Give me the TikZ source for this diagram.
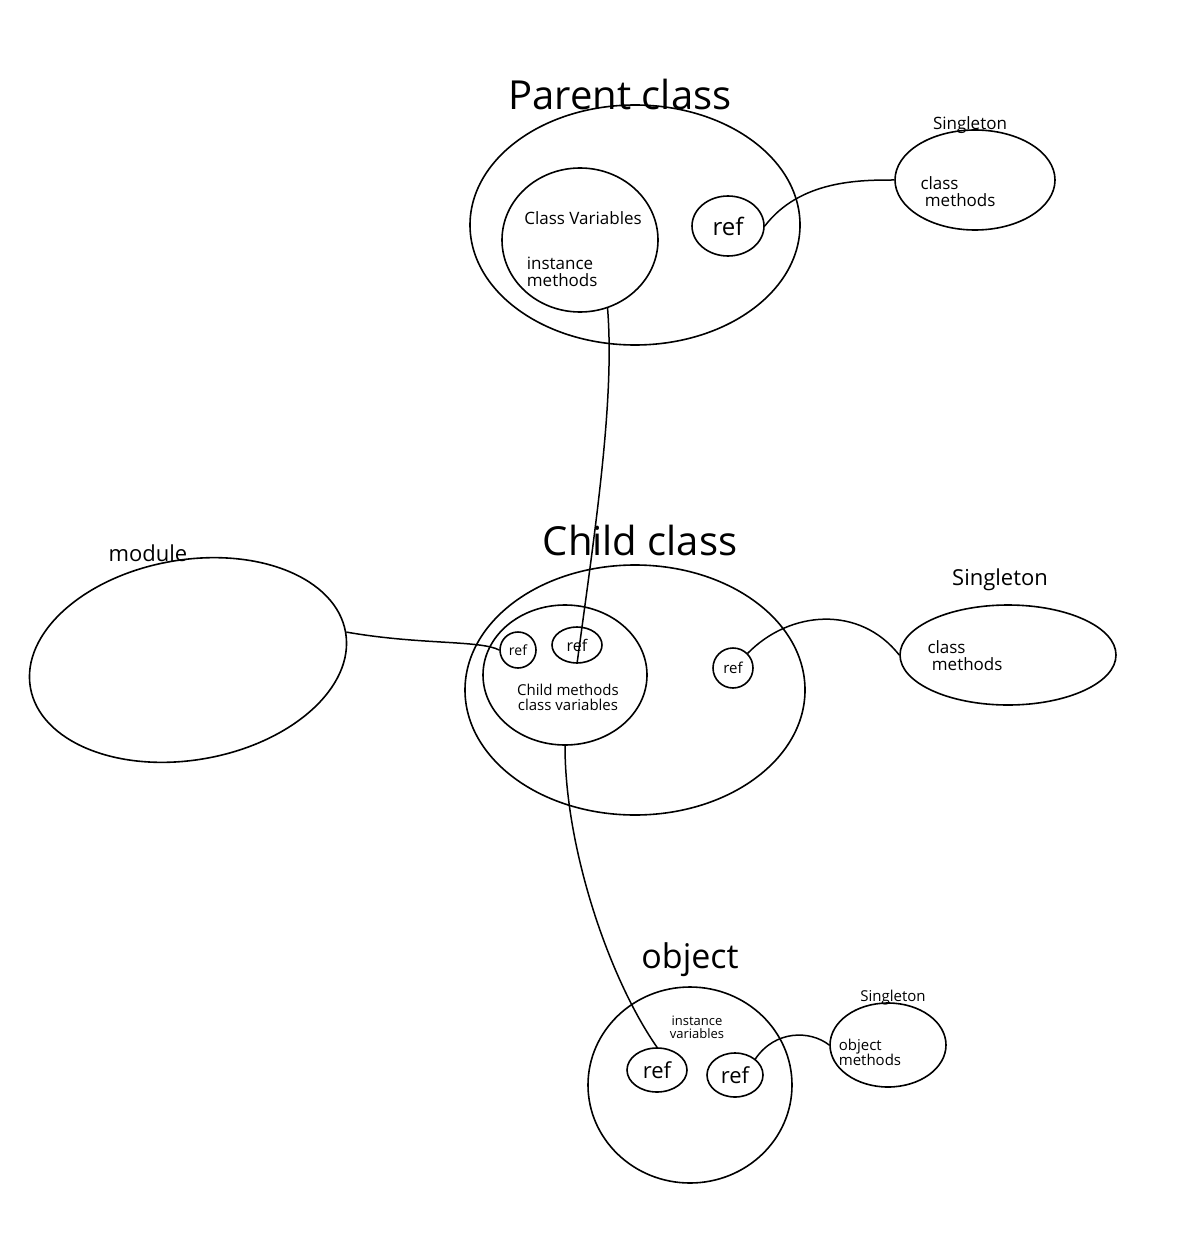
\documentclass[tikz,border=0pt]{standalone}
\usepackage{fontspec}
\setmainfont{Open Sans}
\usetikzlibrary{shapes.geometric}
\begin{document}
\begin{tikzpicture}[x=1pt,y=-1pt,line width=1.6pt,
  el/.style={draw,ellipse,minimum width=#1},
  lbl/.style={font=\fontsize{#1}{#1}\selectfont,inner sep=0pt,align=center},
  con/.style={line width=1.5pt}]
\useasboundingbox[fill=white] (0,0) rectangle (1200,1233);
% Parent
\node[lbl=40] (ptitle) at (620,95) {Parent class};
\draw (635,225) ellipse [x radius=165,y radius=120];
\node[draw,ellipse,minimum width=156,minimum height=144] (pin) at (580,240) {};
\node[lbl=17] (pcv) at (583,218) {Class Variables};
\node[lbl=17] (pim) at (560,272) {instance\\ \ methods};
\node[draw,ellipse,minimum width=72,minimum height=60,lbl=24] (pref) at (728,226) {ref};
\node[draw,ellipse,minimum width=160,minimum height=100] (psing) at (975,180) {};
\node[lbl=17] (psl) at (970,125) {Singleton};
\node[lbl=17,align=left] (pcm) at (958,192) {class\\ \ methods};
\draw[con] (pref.east) .. controls (800,180) and (860,180) .. (psing.west);
% Child
\node[lbl=40] (ctitle) at (640,540) {Child class};
\draw (635,690) ellipse [x radius=170,y radius=125];
\node[draw,ellipse,minimum width=164,minimum height=140] (cin) at (565,675) {};
\node[draw,ellipse,minimum width=36,minimum height=36,lbl=14] (cref1) at (518,650) {ref};
\node[draw,ellipse,minimum width=50,minimum height=36,lbl=16] (cref2) at (577,645) {ref};
\node[lbl=15] (ctext) at (568,697) {Child methods\\ class variables};
\node[draw,ellipse,minimum width=40,minimum height=40,lbl=15] (cref3) at (733,668) {ref};
\node[draw,ellipse,minimum width=216,minimum height=100] (csing) at (1008,655) {};
\node[lbl=22] (csl) at (1000,580) {Singleton};
\node[lbl=17,align=left] (ccm) at (965,656) {class\\ \ methods};
\draw[con] (cref3.north east) .. controls (790,610) and (860,605) .. (csing.west);
\draw[con] (pin.-68) .. controls (615,400) and (595,530) .. (cref2.south);
% Module
\node[lbl=22] (ml) at (148,553) {module};
\node[draw,ellipse,minimum width=320,minimum height=200,rotate=10] (mod) at (188,660) {};
\draw[con] (mod.east) .. controls (420,645) and (480,640) .. (cref1.west);
% Object
\node[lbl=34] (otitle) at (690,960) {object};
\node[draw,ellipse,minimum width=204,minimum height=196] (obj) at (690,1085) {};
\node[lbl=13] (oiv) at (697,1027) {instance\\ variables};
\node[draw,ellipse,minimum width=60,minimum height=44,lbl=22] (oref1) at (657,1070) {ref};
\node[draw,ellipse,minimum width=56,minimum height=44,lbl=22] (oref2) at (735,1075) {ref};
\node[draw,ellipse,minimum width=116,minimum height=84] (osing) at (888,1045) {};
\node[lbl=15] (osl) at (893,998) {Singleton};
\node[lbl=15,align=left] (oom) at (870,1052) {object\\ methods};
\draw[con] (oref2.north east) .. controls (775,1030) and (810,1030) .. (osing.west);
\draw[con] (cin.south) .. controls (565,850) and (610,980) .. (oref1.north);
\end{tikzpicture}
\end{document}
